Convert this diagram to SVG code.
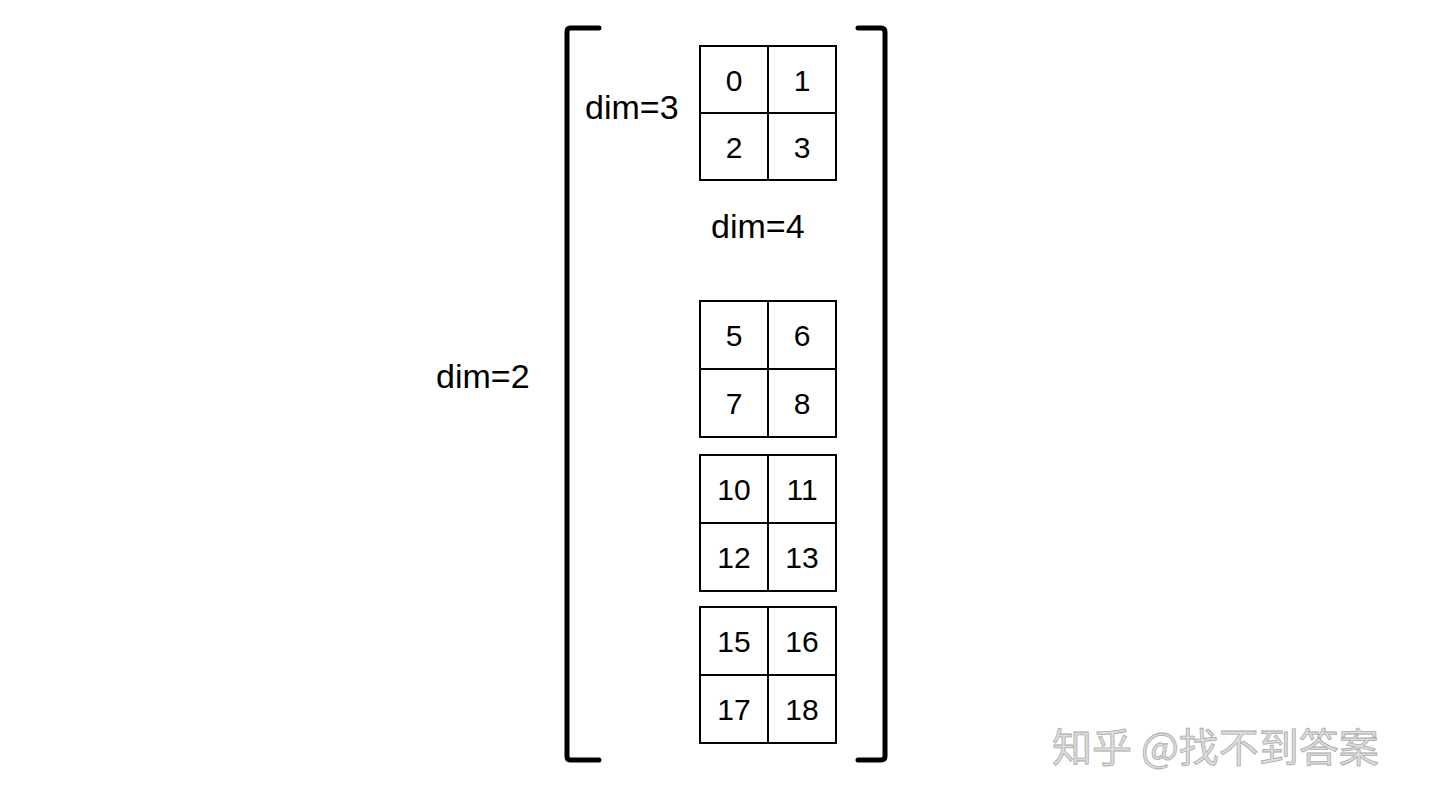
<svg xmlns="http://www.w3.org/2000/svg" width="1440" height="804" viewBox="0 0 1440 804">
<style>
.c{fill:#fff;stroke:#000;stroke-width:2}
.t{font-family:"Liberation Sans",Arial,sans-serif;font-size:30px;fill:#000;text-anchor:middle}
.l{font-family:"Liberation Sans",Arial,sans-serif;font-size:34px;fill:#000}
.b{fill:none;stroke:#000;stroke-width:5;stroke-linecap:round;stroke-linejoin:round}
</style>
<rect width="1440" height="804" fill="#fff"/>
<g id="brackets">
<path class="b" d="M599,28 H570 Q567,28 567,32 V756 Q567,760 570,760 H599"/>
<path class="b" d="M858,28 H881 Q885,28 885,32 V756 Q885,760 881,760 H858"/>
</g>
<g id="labels">
<text class="l" x="585" y="119">dim=3</text>
<text class="l" x="711" y="238">dim=4</text>
<text class="l" x="436" y="388">dim=2</text>
</g>
<g id="block1">
<rect class="c" x="700" y="46" width="68" height="67"/><rect class="c" x="768" y="46" width="68" height="67"/>
<rect class="c" x="700" y="113" width="68" height="67"/><rect class="c" x="768" y="113" width="68" height="67"/>
<text class="t" x="734" y="91">0</text><text class="t" x="802" y="91">1</text>
<text class="t" x="734" y="158">2</text><text class="t" x="802" y="158">3</text>
</g>
<g id="block2">
<rect class="c" x="700" y="301" width="68" height="68"/><rect class="c" x="768" y="301" width="68" height="68"/>
<rect class="c" x="700" y="369" width="68" height="68"/><rect class="c" x="768" y="369" width="68" height="68"/>
<text class="t" x="734" y="346">5</text><text class="t" x="802" y="346">6</text>
<text class="t" x="734" y="414">7</text><text class="t" x="802" y="414">8</text>
</g>
<g id="block3">
<rect class="c" x="700" y="455" width="68" height="68"/><rect class="c" x="768" y="455" width="68" height="68"/>
<rect class="c" x="700" y="523" width="68" height="68"/><rect class="c" x="768" y="523" width="68" height="68"/>
<text class="t" x="734" y="500">10</text><text class="t" x="802" y="500">11</text>
<text class="t" x="734" y="568">12</text><text class="t" x="802" y="568">13</text>
</g>
<g id="block4">
<rect class="c" x="700" y="607" width="68" height="68"/><rect class="c" x="768" y="607" width="68" height="68"/>
<rect class="c" x="700" y="675" width="68" height="68"/><rect class="c" x="768" y="675" width="68" height="68"/>
<text class="t" x="734" y="652">15</text><text class="t" x="802" y="652">16</text>
<text class="t" x="734" y="720">17</text><text class="t" x="802" y="720">18</text>
</g>
<g id="watermark">
<text x="1052" y="762" font-family="'Noto Sans CJK SC',sans-serif" font-size="40" fill="#ddd" stroke="#aaa" stroke-width="0.8">知乎 @找不到答案</text>
</g>
</svg>
